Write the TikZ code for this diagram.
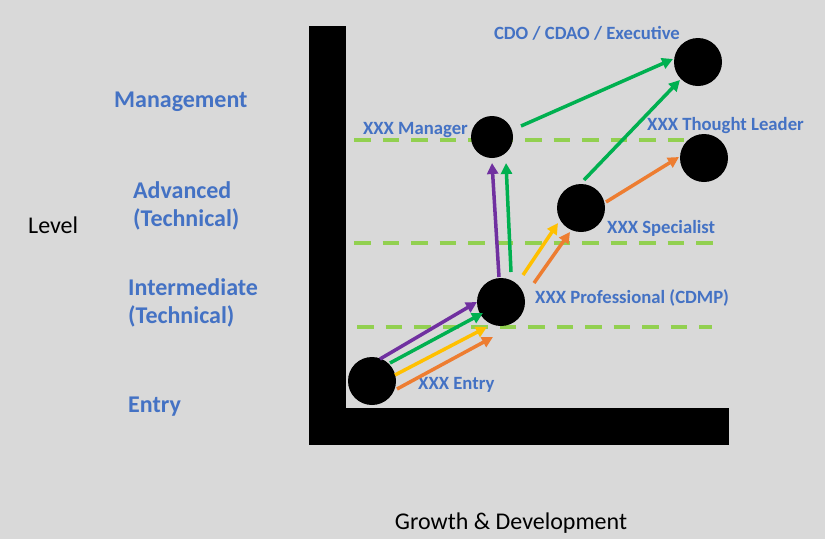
\documentclass[tikz,border=0pt]{standalone}
\usepackage{fontspec}
\setmainfont{Carlito}
\usepackage{xcolor}
\usetikzlibrary{arrows.meta,positioning,calc}

\definecolor{bgGray}{HTML}{D9D9D9}
\definecolor{lblBlue}{HTML}{4472C4}
\definecolor{dashGreen}{HTML}{92D050}
\definecolor{arPurple}{HTML}{7030A0}
\definecolor{arGreen}{HTML}{00B050}
\definecolor{arYellow}{HTML}{FFC000}
\definecolor{arOrange}{HTML}{ED7D31}

\begin{document}
\begin{tikzpicture}[
    x=1pt, y=-1pt,
    >={Triangle[length=11pt,width=11pt]},
    dot/.style={circle, fill=black, minimum size=48pt, inner sep=0pt},
    role/.style={text=lblBlue, font=\bfseries\fontsize{18.7}{22}\selectfont, inner sep=0pt},
    level/.style={text=lblBlue, font=\bfseries\fontsize{24}{28}\selectfont, align=left, inner sep=0pt, anchor=west},
    axislbl/.style={text=black, font=\fontsize{24}{28}\selectfont, inner sep=0pt},
    tier/.style={dashGreen, line width=3.5pt, dash pattern=on 16.5pt off 12pt},
    path/.style={->, line width=3.5pt},
  ]
  % Canvas
  \fill[bgGray] (0,0) rectangle (825,539);
  \useasboundingbox (0,0) rectangle (825,539);

  % Axes
  \fill[black] (309,26) rectangle (346,445);
  \fill[black] (309,408) rectangle (729,445);

  % Tier borders
  \draw[tier] (354,140) -- (705,140);
  \draw[tier] (354,243) -- (713,243);
  \draw[tier] (357,327) -- (712,327);

  % Level labels
  \node[level] (lvMgmt) at (114,102) {Management};
  \node[level] (lvAdv) at (133,206) {Advanced\\(Technical)};
  \node[level] (lvInt) at (128,303) {Intermediate\\(Technical)};
  \node[level] (lvEntry) at (128,407) {Entry};
  \node[axislbl, anchor=west] (ylbl) at (28,225) {Level};
  \node[axislbl] (xlbl) at (511,523) {Growth \& Development};

  % Roles
  \node[dot] (entry) at (372,381) {};
  \node[dot] (prof) at (501,302) {};
  \node[dot, minimum size=42pt] (mgr) at (492,137) {};
  \node[dot] (spec) at (581,208) {};
  \node[dot] (thought) at (704,158) {};
  \node[dot] (exec) at (698,62) {};

  \node[role, anchor=west] (tEntry) at (418,385) {XXX Entry};
  \node[role, anchor=west] (tProf) at (535,298) {XXX Professional (CDMP)};
  \node[role, anchor=east] (tMgr) at (468,130) {XXX Manager};
  \node[role, anchor=west] (tSpec) at (607,228) {XXX Specialist};
  \node[role, anchor=west] (tThought) at (647,126) {XXX Thought Leader};
  \node[role] (tExec) at (587,33) {CDO / CDAO / Executive};

  % Entry -> Professional
  \draw[path, arPurple] ($(entry)+(8,-22)$) -- ($(prof)+(-24,0)$);
  \draw[path, arGreen]  ($(entry)+(18,-18)$) -- ($(prof)+(-18,11)$);
  \draw[path, arYellow] ($(entry)+(23,-6)$) -- ($(prof)+(-14,25)$);
  \draw[path, arOrange] ($(entry)+(25,8)$) -- ($(prof)+(-8,35)$);

  % Professional -> Manager / Specialist
  \draw[path, arPurple] ($(prof)+(-2,-25)$) -- ($(mgr)+(0,26)$);
  \draw[path, arGreen]  ($(prof)+(10,-30)$) -- ($(mgr)+(14,26)$);
  \draw[path, arYellow] ($(prof)+(22,-27)$) -- ($(spec)+(-23,15)$);
  \draw[path, arOrange] ($(prof)+(33,-19)$) -- ($(spec)+(-11,24)$);

  % Upper moves
  \draw[path, arGreen]  ($(mgr)+(29,-11)$) -- ($(exec)+(-25,-3)$);
  \draw[path, arGreen]  ($(spec)+(3,-28)$) -- ($(exec)+(-18,18)$);
  \draw[path, arOrange] ($(spec)+(25,-6)$) -- ($(thought)+(-25,-1)$);
\end{tikzpicture}
\end{document}
